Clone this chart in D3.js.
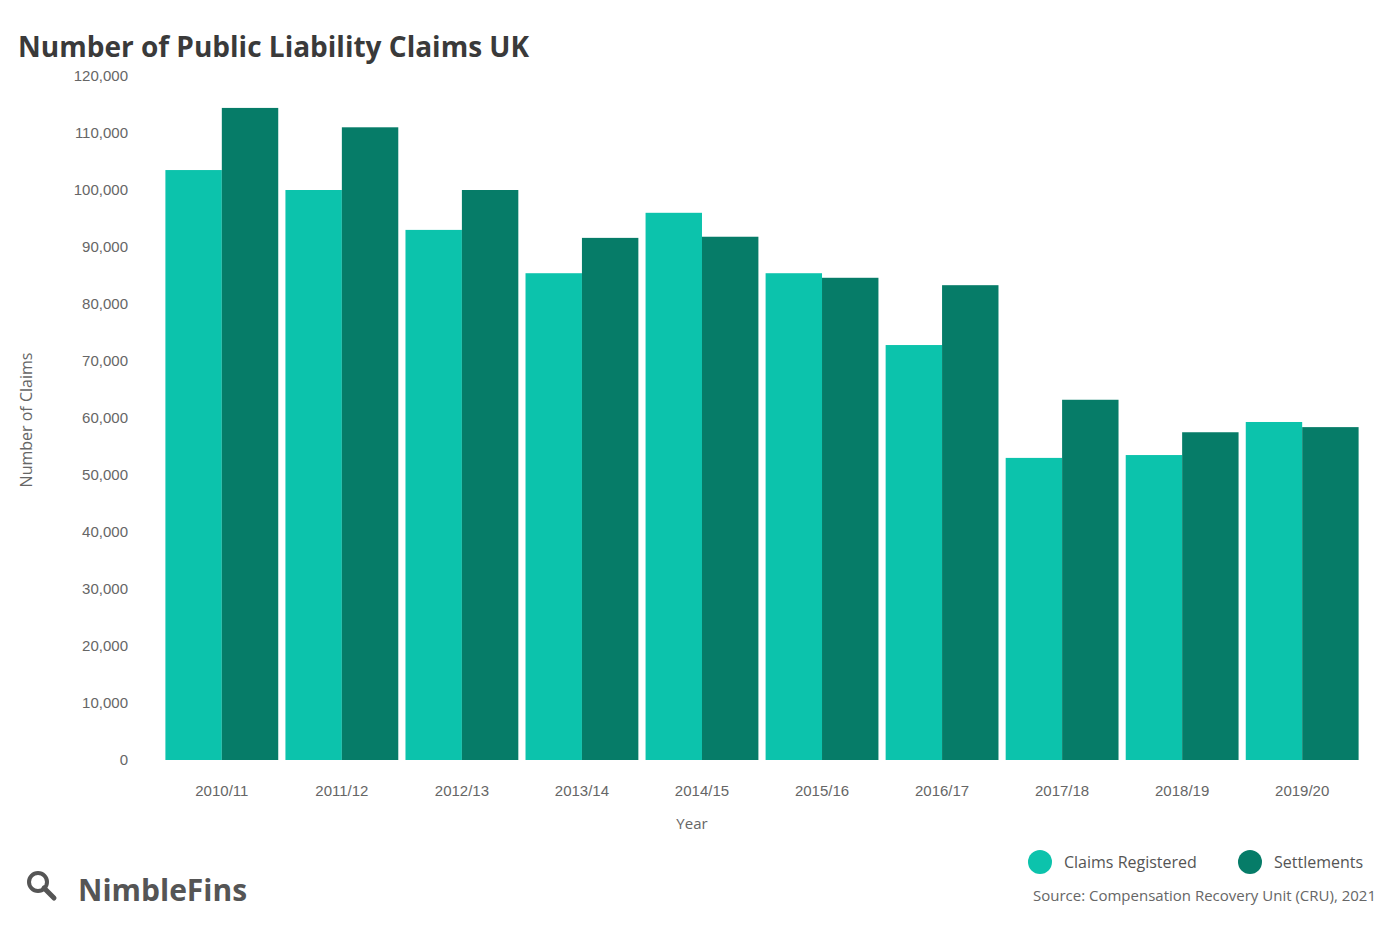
<!DOCTYPE html>
<html>
<head>
<meta charset="utf-8">
<script src="https://cdn.jsdelivr.net/npm/d3@7/dist/d3.min.js"></script>
<style>
  body { margin: 0; background: #ffffff; }
  svg { display: block; font-family: "Open Sans", "DejaVu Sans", sans-serif; }
</style>
</head>
<body>
<svg id="chart" width="1400" height="936"></svg>
<script>
const categories = ["2010/11","2011/12","2012/13","2013/14","2014/15","2015/16","2016/17","2017/18","2018/19","2019/20"];
const seriesNames = ["Claims Registered","Settlements"];
const claimsRegistered = [103500, 100000, 93000, 85400, 96000, 85400, 72800, 53000, 53500, 59300];
const settlements = [114400, 111000, 100000, 91600, 91800, 84600, 83300, 63200, 57500, 58400];
const yTicks = [0,10000,20000,30000,40000,50000,60000,70000,80000,90000,100000,110000,120000];
const colors = ["#0cc3ac", "#067c68"];

const svg = d3.select("#chart");

const x0 = d3.scaleBand().domain(categories).range([163, 1361]).paddingInner(0.06).paddingOuter(0.02);
const x1 = d3.scaleBand().domain(seriesNames).range([0, x0.bandwidth()]);
const y = d3.scaleLinear().domain([0, 120000]).range([760, 76]);

// title
svg.append("text").attr("x", 18).attr("y", 57)
  .attr("font-size", 28).attr("font-weight", "bold").attr("fill", "#3a3a3a")
  .text("Number of Public Liability Claims UK");

// y axis
const yAxis = d3.axisLeft(y).tickValues(yTicks).tickFormat(d3.format(",")).tickSize(0).tickPadding(0);
const gy = svg.append("g").attr("transform", "translate(128,0)").call(yAxis);
gy.select(".domain").remove();
gy.selectAll("text").attr("font-size", 15).attr("fill", "#666");

// bars
const data = categories.map((c, i) => ({ cat: c, vals: [claimsRegistered[i], settlements[i]] }));
const groups = svg.append("g").selectAll("g").data(data).join("g")
  .attr("transform", d => `translate(${x0(d.cat)},0)`);
groups.selectAll("rect").data(d => d.vals.map((v, j) => ({ name: seriesNames[j], v, j })))
  .join("rect")
  .attr("x", d => x1(d.name))
  .attr("width", x1.bandwidth())
  .attr("y", d => y(d.v))
  .attr("height", d => y(0) - y(d.v))
  .attr("fill", d => colors[d.j]);

// x axis
const xAxis = d3.axisBottom(x0).tickSize(0).tickPadding(0);
const gx = svg.append("g").attr("transform", "translate(0,796)").call(xAxis);
gx.select(".domain").remove();
gx.selectAll("text").attr("font-size", 15).attr("fill", "#666").attr("dy", 0);

// axis titles
svg.append("text").attr("x", 692).attr("y", 829).attr("text-anchor", "middle")
  .attr("font-size", 15).attr("fill", "#666").text("Year");
svg.append("text").attr("transform", "translate(32,420) rotate(-90)").attr("text-anchor", "middle")
  .attr("font-size", 16).attr("fill", "#666").text("Number of Claims");

// legend
const legend = svg.append("g");
const legendItems = [{ name: seriesNames[0], x: 1040 }, { name: seriesNames[1], x: 1250 }];
legendItems.forEach((it, j) => {
  legend.append("circle").attr("cx", it.x).attr("cy", 862).attr("r", 12).attr("fill", colors[j]);
  legend.append("text").attr("x", it.x + 24).attr("y", 868).attr("font-size", 16).attr("fill", "#555").text(it.name);
});
svg.append("text").attr("x", 1376).attr("y", 901).attr("text-anchor", "end")
  .attr("font-size", 15).attr("fill", "#666").text("Source: Compensation Recovery Unit (CRU), 2021");

// logo
const logo = svg.append("g").attr("transform", "translate(40,886)");
logo.append("circle").attr("cx", -2).attr("cy", -4).attr("r", 9).attr("fill", "none").attr("stroke", "#555").attr("stroke-width", 4);
logo.append("line").attr("x1", 4).attr("y1", 2).attr("x2", 14).attr("y2", 12).attr("stroke", "#555").attr("stroke-width", 5).attr("stroke-linecap", "round");
svg.append("text").attr("x", 78).attr("y", 901).attr("font-size", 30).attr("font-weight", "bold").attr("fill", "#555")
  .text("NimbleFins");
</script>
</body>
</html>
